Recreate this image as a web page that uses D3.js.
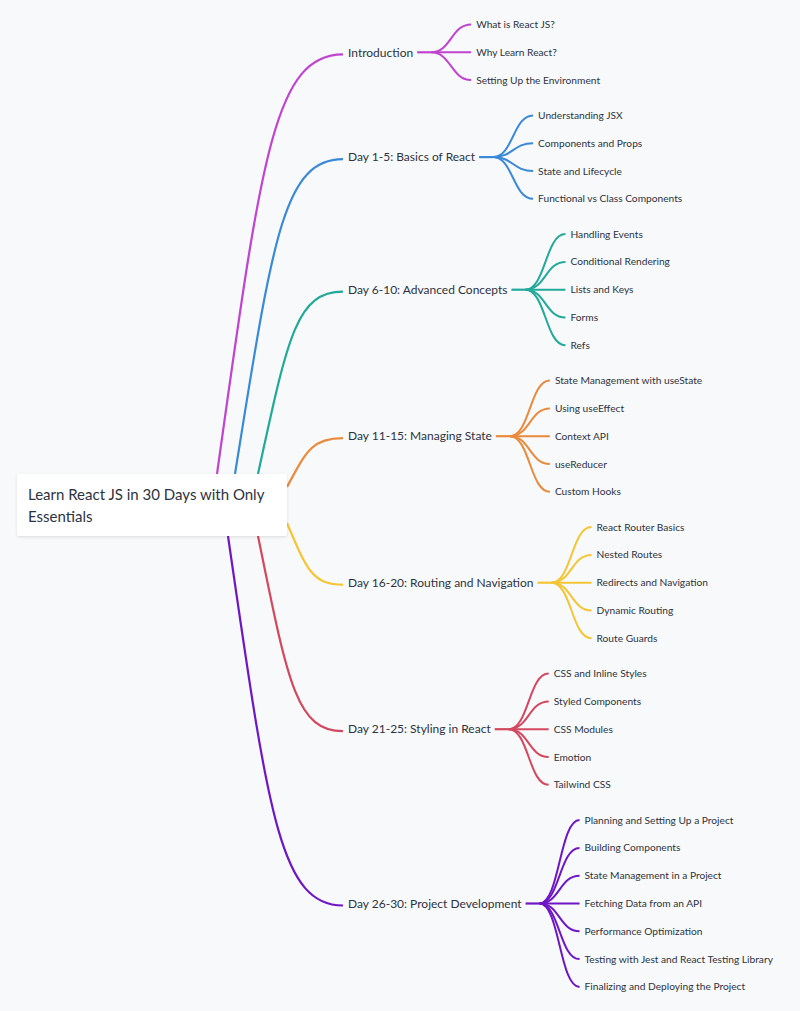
<!DOCTYPE html>
<html><head><meta charset="utf-8">
<script src="https://cdn.jsdelivr.net/npm/d3@7"></script>
<style>body{margin:0;background:#f8f9fa}svg{display:block}text{font-family:Lato,"Open Sans",sans-serif;fill:#2d3340}</style>
</head><body><svg id="c" width="800" height="1011"></svg>
<script>
const rootTitle = ["Learn React JS in 30 Days with Only", "Essentials"];
const branches = ["Introduction","Day 1-5: Basics of React","Day 6-10: Advanced Concepts","Day 11-15: Managing State","Day 16-20: Routing and Navigation","Day 21-25: Styling in React","Day 26-30: Project Development"];
const children = [
 ["What is React JS?","Why Learn React?","Setting Up the Environment"],
 ["Understanding JSX","Components and Props","State and Lifecycle","Functional vs Class Components"],
 ["Handling Events","Conditional Rendering","Lists and Keys","Forms","Refs"],
 ["State Management with useState","Using useEffect","Context API","useReducer","Custom Hooks"],
 ["React Router Basics","Nested Routes","Redirects and Navigation","Dynamic Routing","Route Guards"],
 ["CSS and Inline Styles","Styled Components","CSS Modules","Emotion","Tailwind CSS"],
 ["Planning and Setting Up a Project","Building Components","State Management in a Project","Fetching Data from an API","Performance Optimization","Testing with Jest and React Testing Library","Finalizing and Deploying the Project"]
];
const colors = ["#c044d0","#3a8ad8","#22a99a","#e98a3c","#f4c534","#d4485f","#6f17c4"];

const svg = d3.select("#c");
const rowIndex = d3.scaleLinear().domain([0,1]).range([24.5,52.3]);
const gapScale = d3.scaleLinear().domain([0,1]).range([0,7.5]);
let idx=0;
const groups = branches.map((b,g)=>{
  const ys = children[g].map(()=>rowIndex(idx++)+gapScale(g));
  return {name:b, ys, y:d3.mean(ys), color:colors[g], kids:children[g]};
});
const starts=[[217,474],[235,474],[258,474],[287,487],[287,523],[258,536],[228,536]];
const bx=348;
const link=(x1,y1,x2,y2)=>{const m=(x1+x2)/2;return `M${x1},${y1}C${m},${y1} ${m},${y2} ${x2},${y2}`;};
const linkV=(x1,y1,x2,y2)=>`M${x1},${y1}C${x1+(x2-x1)*0.35},${y1+(y2-y1)*0.75} ${x1+(x2-x1)*0.45},${y2} ${x2},${y2}`;

groups.forEach((G,g)=>{
  const [sx,sy]=starts[g];
  svg.append("path").attr("d",linkV(sx,sy,bx-5,G.y+2)).attr("fill","none").attr("stroke",G.color).attr("stroke-width",2.2);
  const t=svg.append("text").attr("x",bx).attr("y",G.y).attr("dy","0.35em").attr("font-size",12).text(G.name);
  const te=bx+t.node().getComputedTextLength();
  const fx=te+18, cx=te+63;
  svg.append("path").attr("d",`M${te+4},${G.y}L${fx},${G.y}`).attr("stroke",G.color).attr("stroke-width",2.2);
  G.kids.forEach((k,i)=>{
    svg.append("path").attr("d",link(fx,G.y,cx-5,G.ys[i])).attr("fill","none").attr("stroke",G.color).attr("stroke-width",2);
    svg.append("text").attr("x",cx).attr("y",G.ys[i]).attr("dy","0.35em").attr("font-size",10.2).text(k);
  });
});
const defs=svg.append("defs");
const f=defs.append("filter").attr("id","sh").attr("x","-10%").attr("y","-20%").attr("width","120%").attr("height","140%");
f.append("feDropShadow").attr("dx",0).attr("dy",1).attr("stdDeviation",1.5).attr("flood-opacity",0.12);
svg.append("rect").attr("x",17).attr("y",474).attr("width",270).attr("height",62).attr("rx",3).attr("fill","#fff").attr("filter","url(#sh)");
rootTitle.forEach((l,i)=>svg.append("text").attr("x",28).attr("y",495+i*22).attr("dy","0.35em").attr("font-size",15).text(l));
</script></body></html>
